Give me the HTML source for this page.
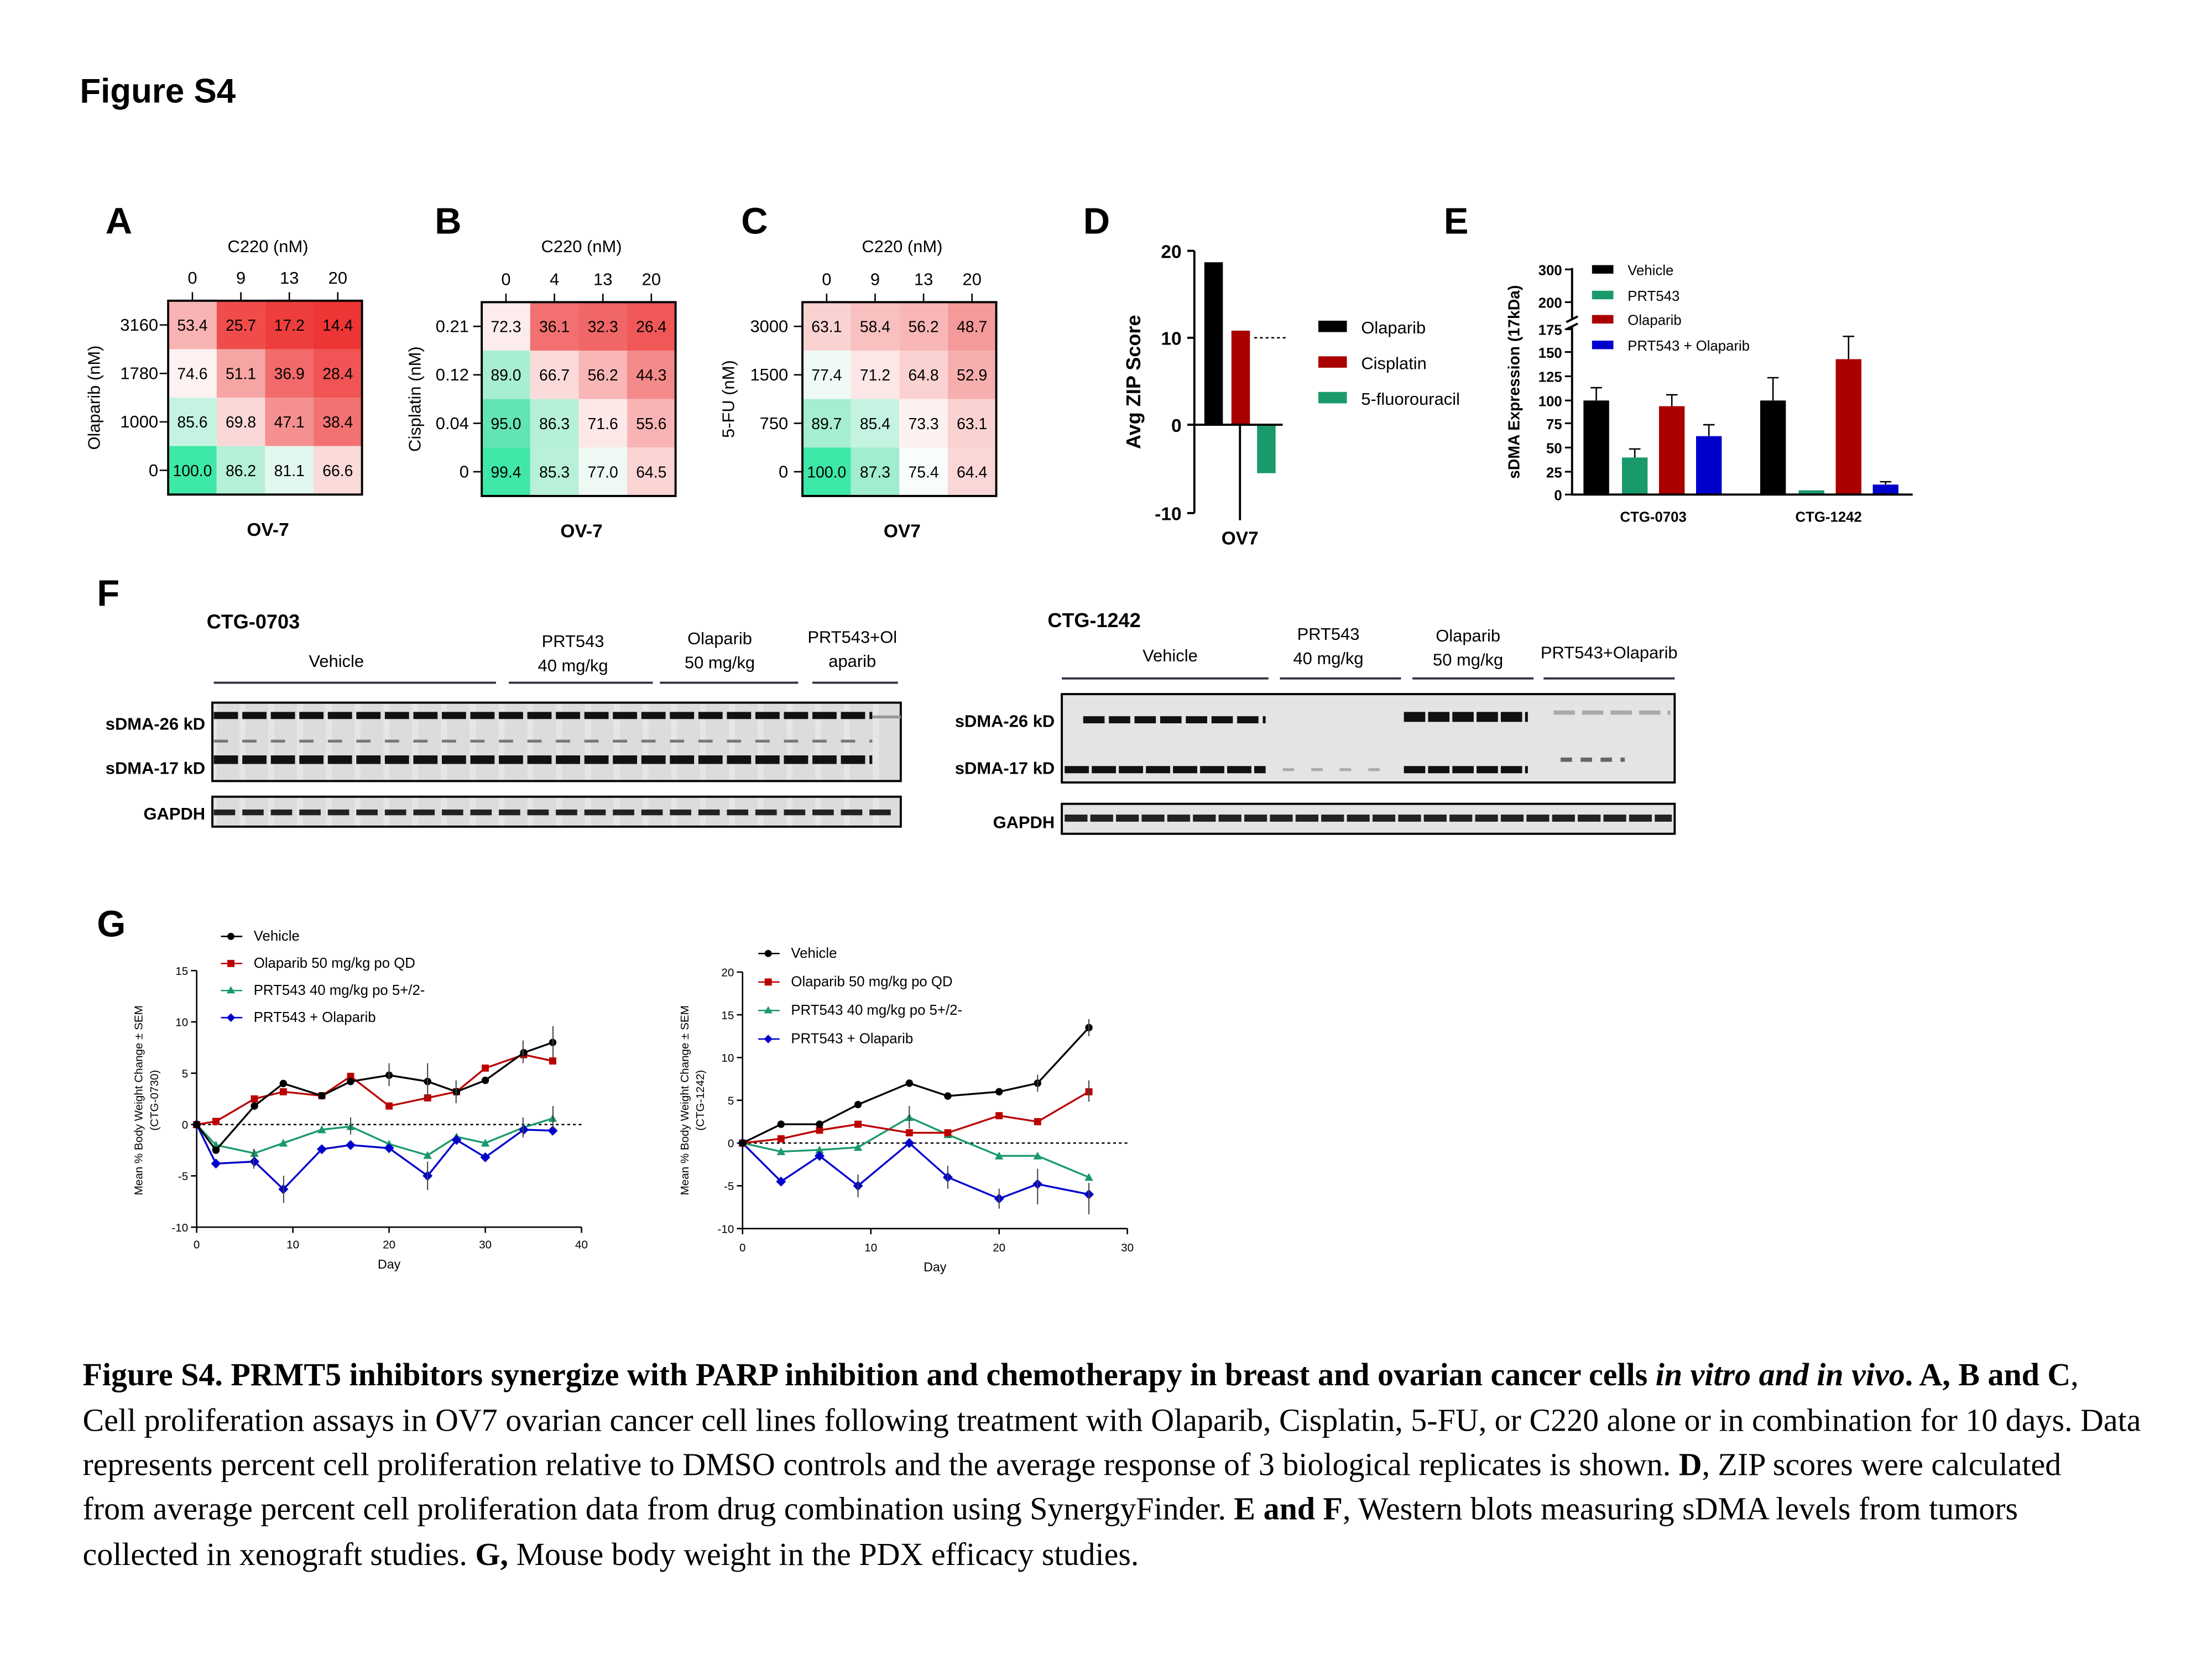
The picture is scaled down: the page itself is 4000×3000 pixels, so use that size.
<!DOCTYPE html>
<html><head><meta charset="utf-8"><style>
html,body{margin:0;padding:0;background:#fff}
svg{display:block}
text{font-family:"Liberation Sans",sans-serif}
.s text{font-family:"Liberation Serif",serif;font-size:22.5px}
.hm{font-size:11px;text-anchor:middle}
.tk{font-size:12px}
.sm{font-size:8px}
</style></head><body>
<svg width="4000" height="3000" viewBox="0 0 1552 1164" xmlns="http://www.w3.org/2000/svg">
<defs>
<marker id="mk" markerWidth="6" markerHeight="6" refX="3" refY="3" markerUnits="userSpaceOnUse"><circle cx="3" cy="3" r="2.6" fill="#000"/></marker>
<marker id="mr" markerWidth="6" markerHeight="6" refX="3" refY="3" markerUnits="userSpaceOnUse"><rect x="0.5" y="0.5" width="5" height="5" fill="#b00"/></marker>
<marker id="mg" markerWidth="6" markerHeight="6" refX="3" refY="3" markerUnits="userSpaceOnUse"><path d="M3 0L6 5.5H0Z" fill="#1a9a6a"/></marker>
<marker id="mb" markerWidth="7" markerHeight="7" refX="3.5" refY="3.5" markerUnits="userSpaceOnUse"><path d="M3.5 0L7 3.5L3.5 7L0 3.5Z" fill="#00c"/></marker>
<pattern id="lane" x="150" y="0" width="20.2" height="10" patternUnits="userSpaceOnUse"><rect width="20.2" height="10" fill="#e6e6e6"/><rect x="2" y="0" width="16" height="10" fill="#dcdcdc"/></pattern>
</defs>
<rect width="1552" height="1164" fill="#fff"/>
<text x="56" y="72" font-size="24" font-weight="bold">Figure S4</text>

<g font-size="26" font-weight="bold"><text x="74" y="164">A</text><text x="305" y="164">B</text><text x="520" y="164">C</text><text x="760" y="164">D</text><text x="1013" y="164">E</text><text x="68" y="425">F</text><text x="68" y="657">G</text></g>

<!-- A -->
<g>
<text x="188" y="177" class="tk" text-anchor="middle">C220 (nM)</text>
<g class="tk" text-anchor="middle"><text x="135" y="199">0</text><text x="169" y="199">9</text><text x="203" y="199">13</text><text x="237" y="199">20</text></g>
<g class="tk" text-anchor="end"><text x="111" y="232">3160</text><text x="111" y="266">1780</text><text x="111" y="300">1000</text><text x="111" y="334">0</text></g>
<g stroke="#000"><path d="M112 228H118M112 262H118M112 296H118M112 330H118M135 205V211M169 205V211M203 205V211M237 205V211"/></g>
<text transform="translate(70,279) rotate(-90)" class="tk" text-anchor="middle">Olaparib (nM)</text>
<rect x="118" y="211" width="34" height="34" fill="#f8b4b4"/><rect x="152" y="211" width="34" height="34" fill="#f04c4c"/><rect x="186" y="211" width="34" height="34" fill="#ee3d3d"/><rect x="220" y="211" width="34" height="34" fill="#ed3535"/>
<rect x="118" y="245" width="34" height="34" fill="#fdf1f1"/><rect x="152" y="245" width="34" height="34" fill="#f6a5a5"/><rect x="186" y="245" width="34" height="34" fill="#f26a6a"/><rect x="220" y="245" width="34" height="34" fill="#f05454"/>
<rect x="118" y="279" width="34" height="34" fill="#c5f3e1"/><rect x="152" y="279" width="34" height="34" fill="#fad8d8"/><rect x="186" y="279" width="34" height="34" fill="#f49090"/><rect x="220" y="279" width="34" height="34" fill="#f27272"/>
<rect x="118" y="313" width="34" height="34" fill="#3ee8a6"/><rect x="152" y="313" width="34" height="34" fill="#b5f0d8"/><rect x="186" y="313" width="34" height="34" fill="#e2f8ee"/><rect x="220" y="313" width="34" height="34" fill="#fbdada"/>
<rect x="118" y="211" width="136" height="136" fill="none" stroke="#000" stroke-width="1.5"/>
<g class="hm"><text x="135" y="232">53.4</text><text x="169" y="232">25.7</text><text x="203" y="232">17.2</text><text x="237" y="232">14.4</text>
<text x="135" y="266">74.6</text><text x="169" y="266">51.1</text><text x="203" y="266">36.9</text><text x="237" y="266">28.4</text>
<text x="135" y="300">85.6</text><text x="169" y="300">69.8</text><text x="203" y="300">47.1</text><text x="237" y="300">38.4</text>
<text x="135" y="334">100.0</text><text x="169" y="334">86.2</text><text x="203" y="334">81.1</text><text x="237" y="334">66.6</text></g>
<text x="188" y="376" font-size="13" font-weight="bold" text-anchor="middle">OV-7</text>
</g>

<!-- B -->
<g>
<text x="408" y="177" class="tk" text-anchor="middle">C220 (nM)</text>
<g class="tk" text-anchor="middle"><text x="355" y="200">0</text><text x="389" y="200">4</text><text x="423" y="200">13</text><text x="457" y="200">20</text></g>
<g class="tk" text-anchor="end"><text x="329" y="233">0.21</text><text x="329" y="267">0.12</text><text x="329" y="301">0.04</text><text x="329" y="335">0</text></g>
<g stroke="#000"><path d="M332 229H338M332 263H338M332 297H338M332 331H338M355 206V212M389 206V212M423 206V212M457 206V212"/></g>
<text transform="translate(295,280) rotate(-90)" class="tk" text-anchor="middle">Cisplatin (nM)</text>
<rect x="338" y="212" width="34" height="34" fill="#fcecec"/><rect x="372" y="212" width="34" height="34" fill="#f27070"/><rect x="406" y="212" width="34" height="34" fill="#f16666"/><rect x="440" y="212" width="34" height="34" fill="#f05858"/>
<rect x="338" y="246" width="34" height="34" fill="#a8eed2"/><rect x="372" y="246" width="34" height="34" fill="#fbdada"/><rect x="406" y="246" width="34" height="34" fill="#f8b6b6"/><rect x="440" y="246" width="34" height="34" fill="#f48a8a"/>
<rect x="338" y="280" width="34" height="34" fill="#63e4b4"/><rect x="372" y="280" width="34" height="34" fill="#b5f0d8"/><rect x="406" y="280" width="34" height="34" fill="#fde8e8"/><rect x="440" y="280" width="34" height="34" fill="#f8b4b4"/>
<rect x="338" y="314" width="34" height="34" fill="#40e8a8"/><rect x="372" y="314" width="34" height="34" fill="#b8f0da"/><rect x="406" y="314" width="34" height="34" fill="#eef9f4"/><rect x="440" y="314" width="34" height="34" fill="#fbd4d4"/>
<rect x="338" y="212" width="136" height="136" fill="none" stroke="#000" stroke-width="1.5"/>
<g class="hm"><text x="355" y="233">72.3</text><text x="389" y="233">36.1</text><text x="423" y="233">32.3</text><text x="457" y="233">26.4</text>
<text x="355" y="267">89.0</text><text x="389" y="267">66.7</text><text x="423" y="267">56.2</text><text x="457" y="267">44.3</text>
<text x="355" y="301">95.0</text><text x="389" y="301">86.3</text><text x="423" y="301">71.6</text><text x="457" y="301">55.6</text>
<text x="355" y="335">99.4</text><text x="389" y="335">85.3</text><text x="423" y="335">77.0</text><text x="457" y="335">64.5</text></g>
<text x="408" y="377" font-size="13" font-weight="bold" text-anchor="middle">OV-7</text>
</g>

<!-- C -->
<g>
<text x="633" y="177" class="tk" text-anchor="middle">C220 (nM)</text>
<g class="tk" text-anchor="middle"><text x="580" y="200">0</text><text x="614" y="200">9</text><text x="648" y="200">13</text><text x="682" y="200">20</text></g>
<g class="tk" text-anchor="end"><text x="553" y="233">3000</text><text x="553" y="267">1500</text><text x="553" y="301">750</text><text x="553" y="335">0</text></g>
<g stroke="#000"><path d="M557 229H563M557 263H563M557 297H563M557 331H563M580 206V212M614 206V212M648 206V212M682 206V212"/></g>
<text transform="translate(515,280) rotate(-90)" class="tk" text-anchor="middle">5-FU (nM)</text>
<rect x="563" y="212" width="34" height="34" fill="#fad2d2"/><rect x="597" y="212" width="34" height="34" fill="#f9c0c0"/><rect x="631" y="212" width="34" height="34" fill="#f8b6b6"/><rect x="665" y="212" width="34" height="34" fill="#f59a9a"/>
<rect x="563" y="246" width="34" height="34" fill="#effaf5"/><rect x="597" y="246" width="34" height="34" fill="#fde6e6"/><rect x="631" y="246" width="34" height="34" fill="#fbd2d2"/><rect x="665" y="246" width="34" height="34" fill="#f7aeae"/>
<rect x="563" y="280" width="34" height="34" fill="#a5eed1"/><rect x="597" y="280" width="34" height="34" fill="#c5f3e1"/><rect x="631" y="280" width="34" height="34" fill="#fdf0f0"/><rect x="665" y="280" width="34" height="34" fill="#fad2d2"/>
<rect x="563" y="314" width="34" height="34" fill="#3ee8a6"/><rect x="597" y="314" width="34" height="34" fill="#a0edcf"/><rect x="631" y="314" width="34" height="34" fill="#f8fcfa"/><rect x="665" y="314" width="34" height="34" fill="#fbd6d6"/>
<rect x="563" y="212" width="136" height="136" fill="none" stroke="#000" stroke-width="1.5"/>
<g class="hm"><text x="580" y="233">63.1</text><text x="614" y="233">58.4</text><text x="648" y="233">56.2</text><text x="682" y="233">48.7</text>
<text x="580" y="267">77.4</text><text x="614" y="267">71.2</text><text x="648" y="267">64.8</text><text x="682" y="267">52.9</text>
<text x="580" y="301">89.7</text><text x="614" y="301">85.4</text><text x="648" y="301">73.3</text><text x="682" y="301">63.1</text>
<text x="580" y="335">100.0</text><text x="614" y="335">87.3</text><text x="648" y="335">75.4</text><text x="682" y="335">64.4</text></g>
<text x="633" y="377" font-size="13" font-weight="bold" text-anchor="middle">OV7</text>
</g>

<!-- D -->
<g>
<rect x="845" y="184" width="13" height="114" fill="#000"/>
<rect x="864" y="232" width="13" height="66" fill="#a00"/>
<rect x="882" y="298" width="13" height="34" fill="#1a9a6a"/>
<line x1="838" y1="176" x2="838" y2="360" stroke="#000" stroke-width="1.5"/>
<line x1="838" y1="298" x2="900" y2="298" stroke="#000" stroke-width="1.5"/>
<line x1="870" y1="298" x2="870" y2="365" stroke="#000" stroke-width="1.5"/>
<line x1="880" y1="237" x2="902" y2="237" stroke="#000" stroke-dasharray="2,2"/>
<g stroke="#000" stroke-width="1.5"><line x1="833" y1="176" x2="838" y2="176"/><line x1="833" y1="237" x2="838" y2="237"/><line x1="833" y1="298" x2="838" y2="298"/><line x1="833" y1="360" x2="838" y2="360"/></g>
<g font-size="13" font-weight="bold" text-anchor="end"><text x="829" y="181">20</text><text x="829" y="242">10</text><text x="829" y="303">0</text><text x="829" y="365">-10</text></g>
<text transform="translate(800,268) rotate(-90)" font-size="14" font-weight="bold" text-anchor="middle">Avg ZIP Score</text>
<text x="870" y="382" font-size="13" font-weight="bold" text-anchor="middle">OV7</text>
<rect x="925" y="225" width="20" height="8" fill="#000"/><text x="955" y="234" font-size="12">Olaparib</text>
<rect x="925" y="250" width="20" height="8" fill="#a00"/><text x="955" y="259" font-size="12">Cisplatin</text>
<rect x="925" y="275" width="20" height="8" fill="#1a9a6a"/><text x="955" y="284" font-size="12">5-fluorouracil</text>
</g>

<!-- E -->
<g>
<rect x="1111" y="281" width="18" height="66" fill="#000"/><rect x="1138" y="321" width="18" height="26" fill="#1a9a6a"/><rect x="1164" y="285" width="18" height="62" fill="#a00"/><rect x="1190" y="306" width="18" height="41" fill="#00c"/>
<rect x="1235" y="281" width="18" height="66" fill="#000"/><rect x="1262" y="344" width="18" height="3" fill="#1a9a6a"/><rect x="1288" y="252" width="18" height="95" fill="#a00"/><rect x="1314" y="340" width="18" height="7" fill="#00c"/>
<g stroke="#000" stroke-width="1" fill="none"><path d="M1120 281V272M1116 272H1124M1147 321V315M1143 315H1151M1173 285V277M1169 277H1177M1199 306V298M1195 298H1203M1244 281V265M1240 265H1248M1297 252V236M1293 236H1301M1323 340V338M1319 338H1327"/></g>
<g stroke="#000" stroke-width="1.5" fill="none"><path d="M1103 188V224M1103 229V347H1342"/><path d="M1099 226L1107 222M1099 231L1107 227"/></g>
<g stroke="#000" stroke-width="1.2" fill="none"><path d="M1098 189H1103M1098 212H1103M1098 231H1103M1098 247H1103M1098 264H1103M1098 281H1103M1098 297H1103M1098 314H1103M1098 331H1103M1098 347H1103"/></g>
<g font-size="10" font-weight="bold" text-anchor="end"><text x="1096" y="193">300</text><text x="1096" y="216">200</text><text x="1096" y="235">175</text><text x="1096" y="251">150</text><text x="1096" y="268">125</text><text x="1096" y="285">100</text><text x="1096" y="301">75</text><text x="1096" y="318">50</text><text x="1096" y="335">25</text><text x="1096" y="351">0</text></g>
<text transform="translate(1066,268) rotate(-90)" font-size="11" font-weight="bold" text-anchor="middle">sDMA Expression (17kDa)</text>
<g font-size="10" font-weight="bold" text-anchor="middle"><text x="1160" y="366">CTG-0703</text><text x="1283" y="366">CTG-1242</text></g>
<g font-size="10"><rect x="1117" y="186" width="15" height="6" fill="#000"/><text x="1142" y="193">Vehicle</text>
<rect x="1117" y="204" width="15" height="6" fill="#1a9a6a"/><text x="1142" y="211">PRT543</text>
<rect x="1117" y="221" width="15" height="6" fill="#a00"/><text x="1142" y="228">Olaparib</text>
<rect x="1117" y="239" width="15" height="6" fill="#00c"/><text x="1142" y="246">PRT543 + Olaparib</text></g>
</g>

<!-- F left -->
<g>
<text x="145" y="441" font-size="14" font-weight="bold">CTG-0703</text>
<g font-size="12" text-anchor="middle"><text x="236" y="468">Vehicle</text><text x="402" y="454">PRT543</text><text x="402" y="471">40 mg/kg</text><text x="505" y="452">Olaparib</text><text x="505" y="469">50 mg/kg</text><text x="598" y="451">PRT543+Ol</text><text x="598" y="468">aparib</text></g>
<g stroke="#334" stroke-width="1.5"><line x1="150" y1="479" x2="348" y2="479"/><line x1="357" y1="479" x2="458" y2="479"/><line x1="463" y1="479" x2="560" y2="479"/><line x1="570" y1="479" x2="630" y2="479"/></g>
<rect x="149" y="493" width="483" height="55" fill="url(#lane)" stroke="#000" stroke-width="1.5"/>
<line x1="150" y1="502" x2="612" y2="502" stroke="#111" stroke-width="5" stroke-dasharray="17,3"/>
<line x1="150" y1="533" x2="612" y2="533" stroke="#111" stroke-width="6" stroke-dasharray="17,3"/>
<line x1="150" y1="520" x2="612" y2="520" stroke="#777" stroke-width="2" stroke-dasharray="10,10"/>
<line x1="612" y1="503" x2="632" y2="503" stroke="#999" stroke-width="2"/>
<rect x="149" y="559" width="483" height="21" fill="url(#lane)" stroke="#000" stroke-width="1.5"/>
<line x1="150" y1="570" x2="630" y2="570" stroke="#222" stroke-width="4" stroke-dasharray="15,5"/>
<g font-size="12" font-weight="bold" text-anchor="end"><text x="144" y="512">sDMA-26 kD</text><text x="144" y="543">sDMA-17 kD</text><text x="144" y="575">GAPDH</text></g>
</g>

<!-- F right -->
<g>
<text x="735" y="440" font-size="14" font-weight="bold">CTG-1242</text>
<g font-size="12" text-anchor="middle"><text x="821" y="464">Vehicle</text><text x="932" y="449">PRT543</text><text x="932" y="466">40 mg/kg</text><text x="1030" y="450">Olaparib</text><text x="1030" y="467">50 mg/kg</text><text x="1129" y="462">PRT543+Olaparib</text></g>
<g stroke="#334" stroke-width="1.5"><line x1="745" y1="476" x2="890" y2="476"/><line x1="898" y1="476" x2="983" y2="476"/><line x1="991" y1="476" x2="1076" y2="476"/><line x1="1083" y1="476" x2="1175" y2="476"/></g>
<rect x="745" y="487" width="430" height="62" fill="#e4e4e4" stroke="#000" stroke-width="1.5"/>
<line x1="760" y1="505" x2="888" y2="505" stroke="#111" stroke-width="5" stroke-dasharray="15,3"/>
<line x1="985" y1="503" x2="1072" y2="503" stroke="#111" stroke-width="7" stroke-dasharray="15,2"/>
<line x1="1090" y1="500" x2="1172" y2="500" stroke="#aaa" stroke-width="3" stroke-dasharray="15,5"/>
<line x1="747" y1="540" x2="888" y2="540" stroke="#111" stroke-width="5" stroke-dasharray="17,2"/>
<line x1="985" y1="540" x2="1072" y2="540" stroke="#111" stroke-width="5" stroke-dasharray="15,2"/>
<line x1="900" y1="540" x2="980" y2="540" stroke="#aaa" stroke-width="2" stroke-dasharray="8,12"/>
<line x1="1095" y1="533" x2="1140" y2="533" stroke="#666" stroke-width="3" stroke-dasharray="8,6"/>
<rect x="745" y="564" width="430" height="21" fill="#e4e4e4" stroke="#000" stroke-width="1.5"/>
<line x1="747" y1="574" x2="1173" y2="574" stroke="#222" stroke-width="5" stroke-dasharray="16,2"/>
<g font-size="12" font-weight="bold" text-anchor="end"><text x="740" y="510">sDMA-26 kD</text><text x="740" y="543">sDMA-17 kD</text><text x="740" y="581">GAPDH</text></g>
</g>

<!-- G left -->
<g>
<g stroke="#000" stroke-width="1" fill="none"><path d="M138 681V861H408"/><path d="M134 681H138M134 717H138M134 753H138M134 789H138M134 825H138M134 861H138"/><path d="M138 861V865M205.5 861V865M273 861V865M340.5 861V865M408 861V865"/></g>
<line x1="138" y1="789" x2="408" y2="789" stroke="#000" stroke-dasharray="2,2"/>
<g class="sm" text-anchor="end"><text x="132" y="684">15</text><text x="132" y="720">10</text><text x="132" y="756">5</text><text x="132" y="792">0</text><text x="132" y="828">-5</text><text x="132" y="864">-10</text></g>
<g class="sm" text-anchor="middle"><text x="138" y="876">0</text><text x="205.5" y="876">10</text><text x="273" y="876">20</text><text x="340.5" y="876">30</text><text x="408" y="876">40</text><text x="273" y="890" font-size="9">Day</text></g>
<text transform="translate(100,772) rotate(-90)" font-size="8" text-anchor="middle">Mean % Body Weight Change ± SEM</text>
<text transform="translate(111,772) rotate(-90)" font-size="8" text-anchor="middle">(CTG-0730)</text>
<g fill="none" stroke-width="1.3">
<polyline stroke="#1a9a6a" marker-start="url(#mg)" marker-mid="url(#mg)" marker-end="url(#mg)" points="138,789 151.5,803.4 178.5,809.2 198.8,802 225.8,792.6 246,790.4 273,802.7 300,810.6 320.3,797.6 340.5,802 367.5,791 387.8,784.7"/>
<polyline stroke="#00c" marker-start="url(#mb)" marker-mid="url(#mb)" marker-end="url(#mb)" points="138,789 151.5,816.4 178.5,815 198.8,834.4 225.8,806.3 246,803.4 273,805.6 300,825 320.3,799.8 340.5,812 367.5,792.6 387.8,793.3"/>
<polyline stroke="#b00" marker-start="url(#mr)" marker-mid="url(#mr)" marker-end="url(#mr)" points="138,789 151.5,786.8 178.5,771 198.8,766 225.8,768.8 246,755.2 273,776 300,770.3 320.3,766 340.5,749.4 367.5,740 387.8,744.4"/>
<polyline stroke="#000" marker-start="url(#mk)" marker-mid="url(#mk)" marker-end="url(#mk)" points="138,789 151.5,807 178.5,776 198.8,760.2 225.8,768.8 246,758.8 273,754.4 300,758.8 320.3,766 340.5,758 367.5,738.6 387.8,731.4"/>
</g>
<g stroke="#444" stroke-width="0.8" fill="none"><path d="M388 720V742M367 730V746M300 746V770M273 746V762M300 815V835M199 825V844M320 758V774M178 820V806M246 784V796M367 784V798M388 776V792"/></g>
<g font-size="10">
<line x1="155" y1="657" x2="170" y2="657" stroke="#000"/><circle cx="162" cy="657" r="2.5"/><text x="178" y="660">Vehicle</text>
<line x1="155" y1="676" x2="170" y2="676" stroke="#b00"/><rect x="159.5" y="673.5" width="5" height="5" fill="#b00"/><text x="178" y="679">Olaparib 50 mg/kg po QD</text>
<line x1="155" y1="695" x2="170" y2="695" stroke="#1a9a6a"/><path d="M162 692L165 697H159Z" fill="#1a9a6a"/><text x="178" y="698">PRT543 40 mg/kg po 5+/2-</text>
<line x1="155" y1="714" x2="170" y2="714" stroke="#00c"/><path d="M162 711L165 714L162 717L159 714Z" fill="#00c"/><text x="178" y="717">PRT543 + Olaparib</text>
</g>
</g>

<!-- G right -->
<g>
<g stroke="#000" stroke-width="1" fill="none"><path d="M521 682V862H791"/><path d="M517 682H521M517 712H521M517 742H521M517 772H521M517 802H521M517 832H521M517 862H521"/><path d="M521 862V866M611 862V866M701 862V866M791 862V866"/></g>
<line x1="521" y1="802" x2="791" y2="802" stroke="#000" stroke-dasharray="2,2"/>
<g class="sm" text-anchor="end"><text x="515" y="685">20</text><text x="515" y="715">15</text><text x="515" y="745">10</text><text x="515" y="775">5</text><text x="515" y="805">0</text><text x="515" y="835">-5</text><text x="515" y="865">-10</text></g>
<g class="sm" text-anchor="middle"><text x="521" y="878">0</text><text x="611" y="878">10</text><text x="701" y="878">20</text><text x="791" y="878">30</text><text x="656" y="892" font-size="9">Day</text></g>
<text transform="translate(483,772) rotate(-90)" font-size="8" text-anchor="middle">Mean % Body Weight Change ± SEM</text>
<text transform="translate(494,772) rotate(-90)" font-size="8" text-anchor="middle">(CTG-1242)</text>
<g fill="none" stroke-width="1.3">
<polyline stroke="#1a9a6a" marker-start="url(#mg)" marker-mid="url(#mg)" marker-end="url(#mg)" points="521,802 548,808 575,806.8 602,805 638,784 665,796 701,811 728,811 764,826"/>
<polyline stroke="#00c" marker-start="url(#mb)" marker-mid="url(#mb)" marker-end="url(#mb)" points="521,802 548,829 575,811 602,832 638,802 665,826 701,841 728,830.8 764,838"/>
<polyline stroke="#b00" marker-start="url(#mr)" marker-mid="url(#mr)" marker-end="url(#mr)" points="521,802 548,799 575,793 602,788.8 638,794.8 665,794.8 701,782.8 728,787 764,766"/>
<polyline stroke="#000" marker-start="url(#mk)" marker-mid="url(#mk)" marker-end="url(#mk)" points="521,802 548,788.8 575,788.8 602,775 638,760 665,769 701,766 728,760 764,721"/>
</g>
<g stroke="#444" stroke-width="0.8" fill="none"><path d="M764 715V727M764 758V773M764 830V852M728 820V845M701 834V848M638 776V792M665 818V834M602 824V840M728 754V766"/></g>
<g font-size="10">
<line x1="532" y1="669" x2="547" y2="669" stroke="#000"/><circle cx="539" cy="669" r="2.5"/><text x="555" y="672">Vehicle</text>
<line x1="532" y1="689" x2="547" y2="689" stroke="#b00"/><rect x="536.5" y="686.5" width="5" height="5" fill="#b00"/><text x="555" y="692">Olaparib 50 mg/kg po QD</text>
<line x1="532" y1="709" x2="547" y2="709" stroke="#1a9a6a"/><path d="M539 706L542 711H536Z" fill="#1a9a6a"/><text x="555" y="712">PRT543 40 mg/kg po 5+/2-</text>
<line x1="532" y1="729" x2="547" y2="729" stroke="#00c"/><path d="M539 726L542 729L539 732L536 729Z" fill="#00c"/><text x="555" y="732">PRT543 + Olaparib</text>
</g>
</g>

<!-- Caption -->
<g class="s">
<text x="58" y="972"><tspan font-weight="bold">Figure S4. PRMT5 inhibitors synergize with PARP inhibition and chemotherapy in breast and ovarian cancer cells </tspan><tspan font-weight="bold" font-style="italic">in vitro and in vivo</tspan><tspan font-weight="bold">. A, B and C</tspan>,</text>
<text x="58" y="1004">Cell proliferation assays in OV7 ovarian cancer cell lines following treatment with Olaparib, Cisplatin, 5-FU, or C220 alone or in combination for 10 days. Data</text>
<text x="58" y="1035">represents percent cell proliferation relative to DMSO controls and the average response of 3 biological replicates is shown. <tspan font-weight="bold">D</tspan>, ZIP scores were calculated</text>
<text x="58" y="1066">from average percent cell proliferation data from drug combination using SynergyFinder. <tspan font-weight="bold">E and F</tspan>, Western blots measuring sDMA levels from tumors</text>
<text x="58" y="1098">collected in xenograft studies. <tspan font-weight="bold">G,</tspan> Mouse body weight in the PDX efficacy studies.</text>
</g>
</svg>
</body></html>
